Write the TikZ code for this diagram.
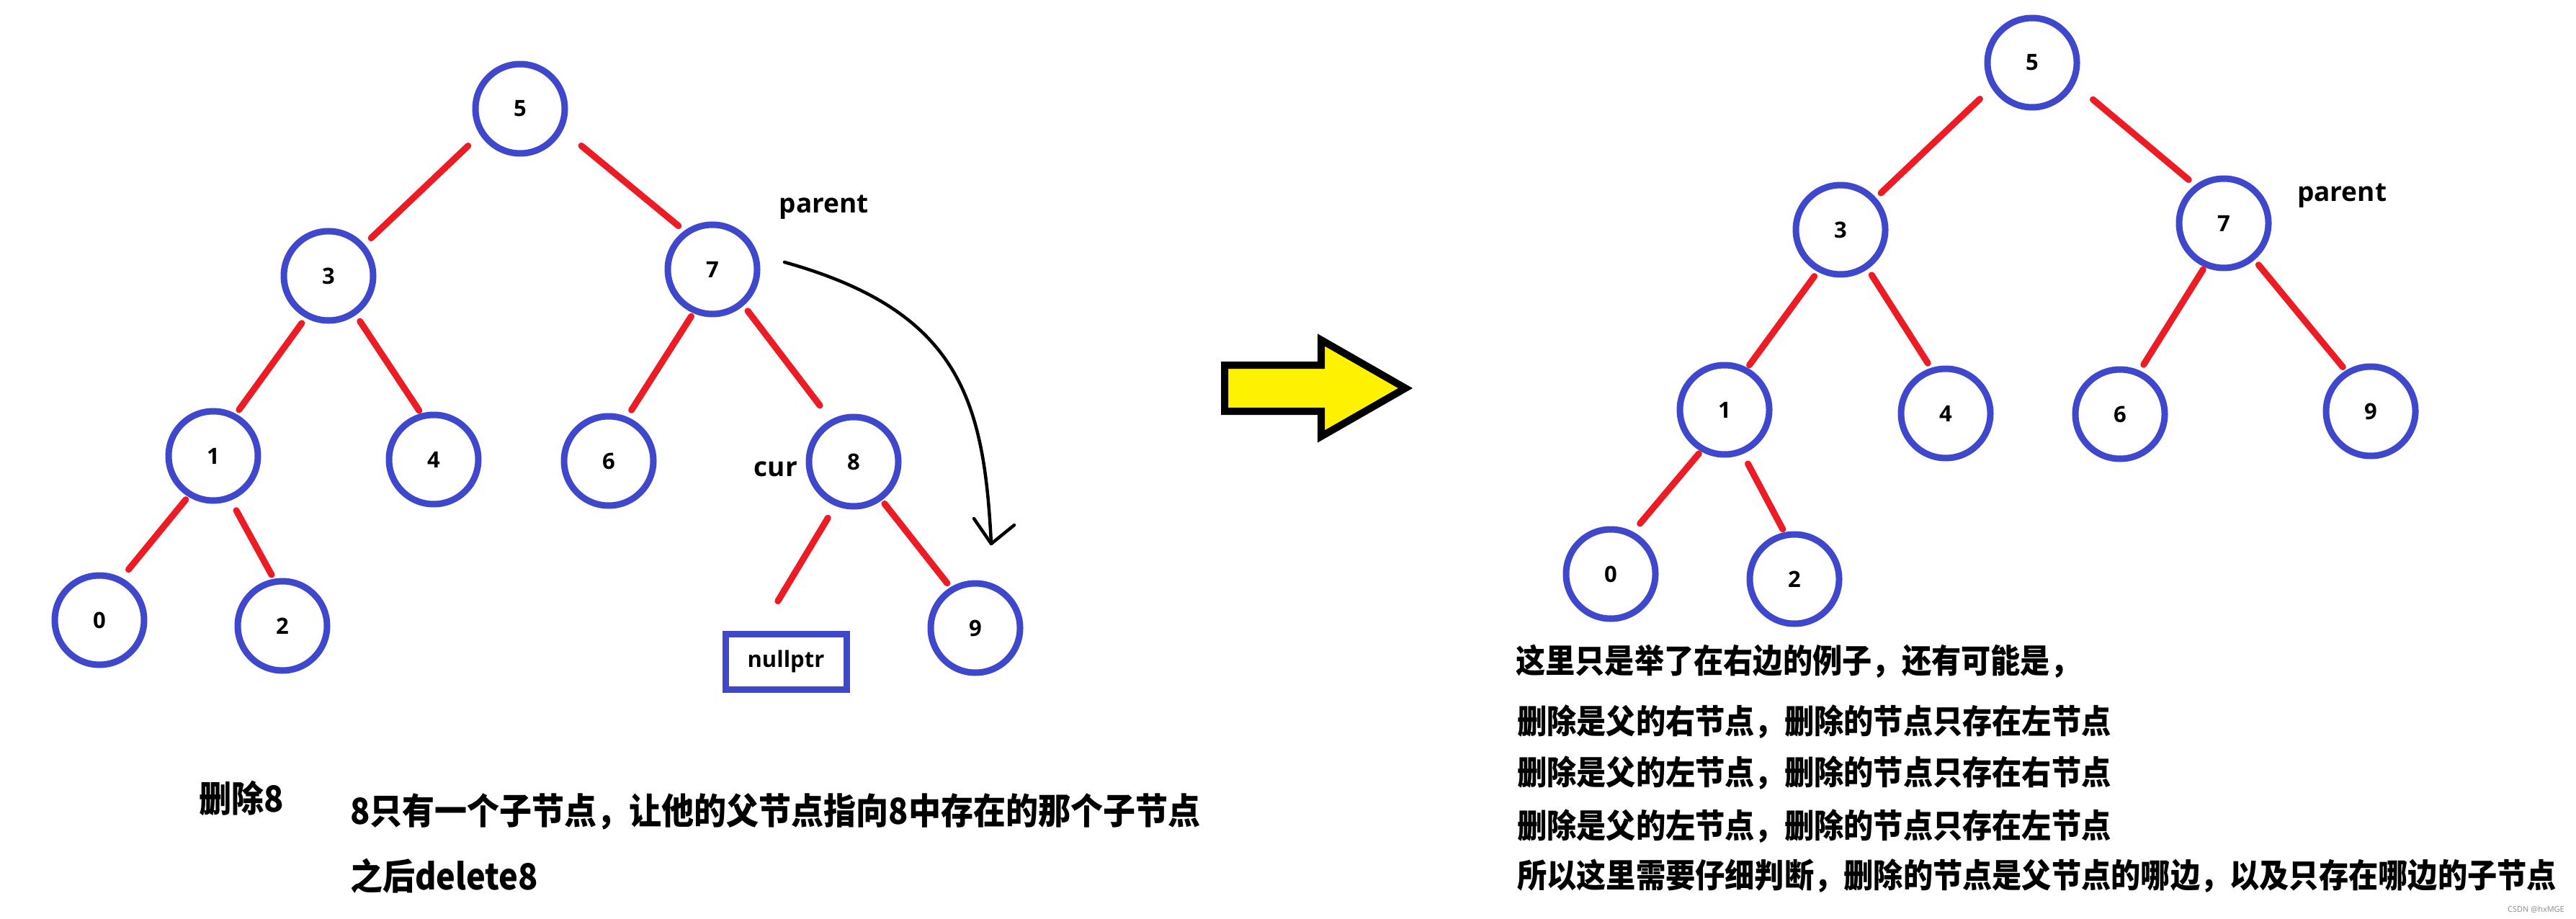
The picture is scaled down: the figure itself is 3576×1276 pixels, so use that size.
\documentclass[tikz,border=0pt]{standalone}
\usepackage{fontspec}
\newfontfamily\cjk{Noto Sans CJK SC}[FakeStretch=0.9]
\newfontfamily\lat{Open Sans}
\definecolor{nblue}{HTML}{3F48CC}
\definecolor{ered}{HTML}{ED1C24}
\definecolor{ayellow}{HTML}{FFF200}
\begin{document}
\begin{tikzpicture}[x=1pt,y=-1pt,
  nd/.style={circle, draw=nblue, line width=9pt, minimum size=124pt, inner sep=0pt, outer sep=0pt, font=\lat\bfseries\fontsize{31}{31}\selectfont},
  nullbox/.style={rectangle, draw=nblue, line width=9pt, minimum width=168pt, minimum height=77pt, inner sep=0pt, outer sep=0pt, font=\lat\bfseries\fontsize{31}{33}\selectfont},
  redge/.style={draw=ered, line width=9pt, line cap=round},
  lbl/.style={font=\lat\bfseries\fontsize{37}{40}\selectfont, inner sep=0pt, anchor=base},
  cjkl/.style={font=\cjk\bfseries\fontsize{50}{55}\selectfont, inner sep=0pt, anchor=west},
  cjkr/.style={font=\cjk\bfseries\fontsize{45.8}{50}\selectfont, inner sep=0pt, anchor=west},
  hand/.style={draw=black, line width=4.5pt, line cap=round, line join=round},
  bigarrow/.style={fill=ayellow, draw=black, line width=10pt, line join=miter}]

\useasboundingbox[fill=white] (0,0) rectangle (3576,1276);

% ---------- left tree ----------
\node[nd] (L5) at (722,151) {5};
\node[nd] (L3) at (456,383) {3};
\node[nd] (L7) at (989,374) {7};
\node[nd] (L1) at (296,633) {1};
\node[nd] (L4) at (602,638) {4};
\node[nd] (L6) at (845,640) {6};
\node[nd] (L8) at (1185,641) {8};
\node[nd] (L0) at (138,861) {0};
\node[nd] (L2) at (392,869) {2};
\node[nd] (L9) at (1354,872) {9};
\node[nullbox] (Lnull) at (1091,918.5) {nullptr};

\node[lbl] (lparent) at (1144,295) {parent};
\node[lbl] (lcur) at (1077,661) {cur};

\draw[redge, shorten <=27pt, shorten >=17pt] (L5.212.6) -- (L3.41.9);
\draw[redge, shorten <=38pt, shorten >=15pt] (L5.-26.6) -- (L7.125.5);
\draw[redge, shorten <=13.6pt, shorten >=11.4pt] (L3.242.4) -- (L1.62.4);
\draw[redge, shorten <=14.8pt, shorten >=9.3pt] (L3.-55.1) -- (L4.104.6);
\draw[redge, shorten <=9.7pt, shorten >=15.6pt] (L7.247) -- (L6.68.1);
\draw[redge, shorten <=13.9pt, shorten >=29.3pt] (L7.-49.8) -- (L8.118.8);
\draw[redge, shorten <=9.7pt, shorten >=19.4pt] (L1.239.9) -- (L0.63.7);
\draw[redge, shorten <=20.3pt, shorten >=11pt] (L1.-69.4) -- (L2.99.5);
\draw[redge, shorten <=24.2pt, shorten >=53pt] (L8.248.2) -- (Lnull.135);
\draw[redge, shorten <=10.4pt, shorten >=11.6pt] (L8.-54.6) -- (L9.121.1);

% hand-drawn curved arrow
\coordinate (cs) at (1089,364);
\coordinate (ce) at (1376,755);
\coordinate (ca1) at (1352,720);
\coordinate (ca2) at (1408,729);
\draw[hand] (cs) .. controls (1332,432) and (1366,555) .. (ce);
\draw[hand] (ca1) -- (ce) -- (ca2);

% ---------- big yellow arrow ----------
\draw[bigarrow] (1700,507) -- (1834,507) -- (1834,472) -- (1951,539) -- (1834,606) -- (1834,571) -- (1700,571) -- cycle;

% ---------- right tree ----------
\node[nd] (R5) at (2821,87) {5};
\node[nd] (R3) at (2555,319) {3};
\node[nd] (R7) at (3087,310) {7};
\node[nd] (R1) at (2394,569) {1};
\node[nd] (R4) at (2701,574) {4};
\node[nd] (R6) at (2943,575) {6};
\node[nd] (R9) at (3291,571) {9};
\node[nd] (R0) at (2236,797) {0};
\node[nd] (R2) at (2491,804) {2};

\node[lbl] (rparent) at (3251,279) {parent};

\draw[redge, shorten <=26.8pt, shorten >=13.7pt] (R5.211.2) -- (R3.42.3);
\draw[redge, shorten <=37.3pt, shorten >=16pt] (R5.-26.3) -- (R7.126.1);
\draw[redge, shorten <=12.2pt, shorten >=9.1pt] (R3.242.7) -- (R1.62.4);
\draw[redge, shorten <=14.3pt, shorten >=12.3pt] (R3.-55.7) -- (R4.107.2);
\draw[redge, shorten <=8.4pt, shorten >=14.2pt] (R7.247.4) -- (R6.66.8);
\draw[redge, shorten <=13.3pt, shorten >=10.7pt] (R7.-50.4) -- (R9.121.5);
\draw[redge, shorten <=8.7pt, shorten >=19.4pt] (R1.241.3) -- (R0.63.7);
\draw[redge, shorten <=19.7pt, shorten >=9.4pt] (R1.-68.5) -- (R2.101.3);

% ---------- texts ----------
\node[cjkl] (t1) at (276,1108) {删除8};
\node[cjkl] (t2) at (486,1127) {8只有一个子节点，让他的父节点指向8中存在的那个子节点};
\node[cjkl] (t3) at (486,1216) {之后delete8};

\node[cjkr] (r1) at (2104,918) {这里只是举了在右边的例子，还有可能是，};
\node[cjkr] (r2) at (2106,1002) {删除是父的右节点，删除的节点只存在左节点};
\node[cjkr] (r3) at (2106,1073) {删除是父的左节点，删除的节点只存在右节点};
\node[cjkr] (r4) at (2106,1147) {删除是父的左节点，删除的节点只存在左节点};
\node[cjkr] (r5) at (2106,1216) {所以这里需要仔细判断，删除的节点是父节点的哪边，以及只存在哪边的子节点};

\node[font=\lat\fontsize{11}{12}\selectfont, text=black!45, inner sep=0pt, anchor=east] (wm) at (3560,1263) {CSDN @hxMGE};
\end{tikzpicture}
\end{document}
